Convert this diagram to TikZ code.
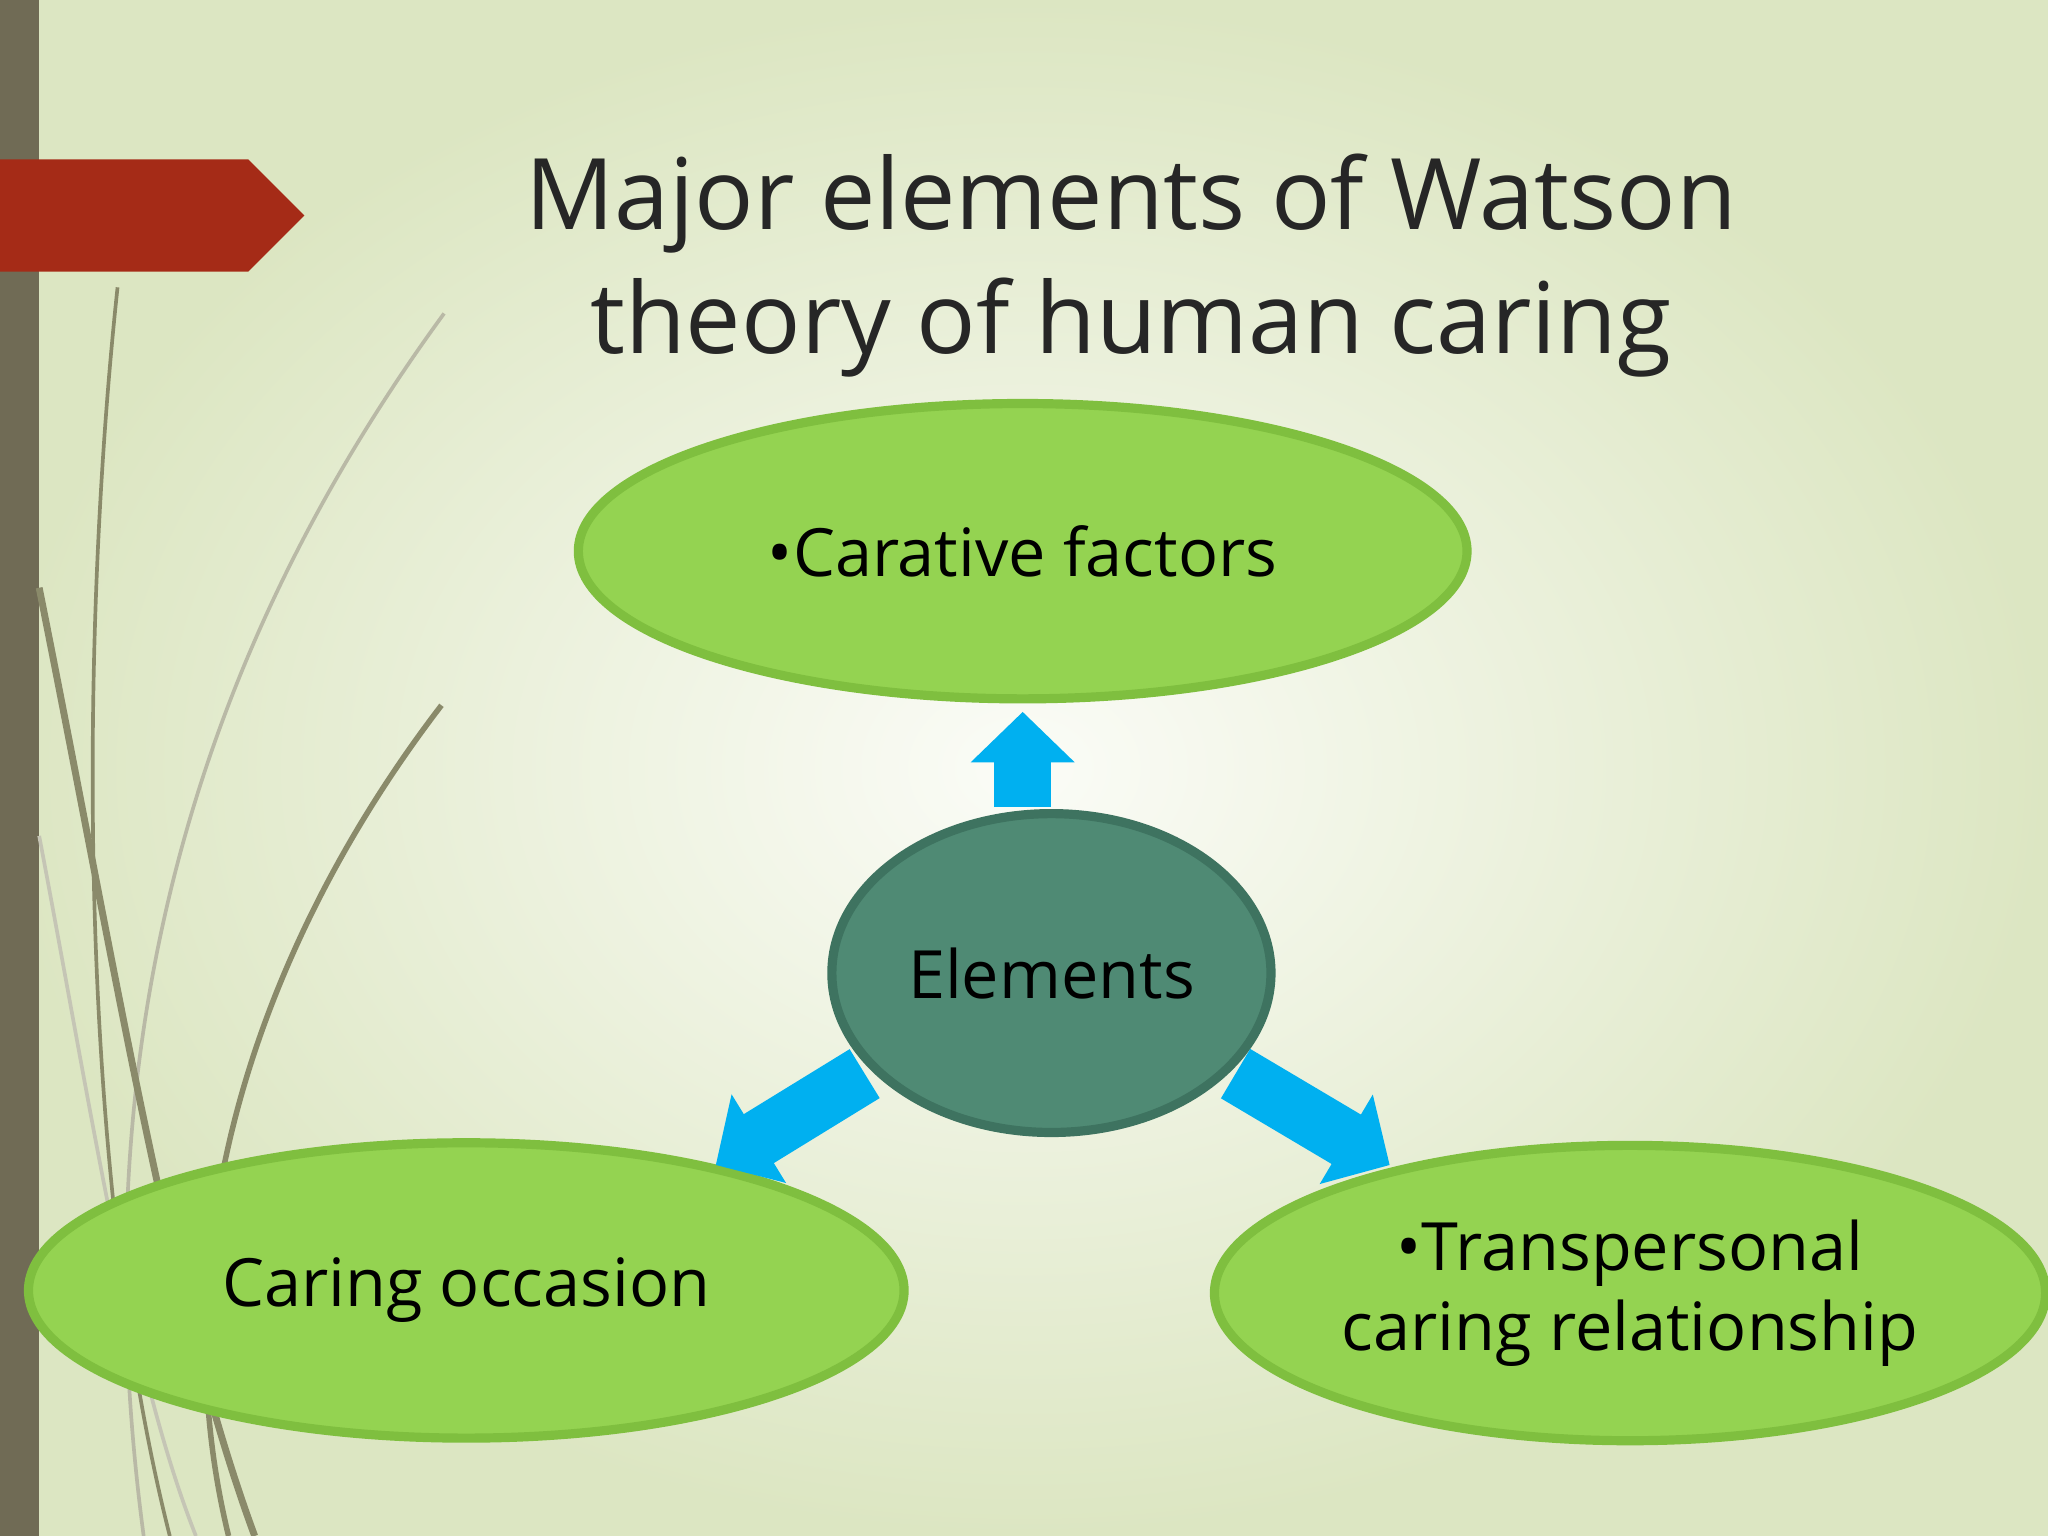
\documentclass[tikz,border=0pt]{standalone}
\usepackage{fontspec}
\setmainfont{Open Sans}
\usetikzlibrary{arrows.meta,shapes.geometric}
\definecolor{bgout}{HTML}{DCE6C2}
\definecolor{bgin}{HTML}{FBFCF7}
\definecolor{barc}{HTML}{706B55}
\definecolor{redc}{HTML}{A52B17}
\definecolor{lgreen}{HTML}{94D351}
\definecolor{lgreenedge}{HTML}{7FBF3F}
\definecolor{teal}{HTML}{4F8A74}
\definecolor{tealedge}{HTML}{3E7360}
\definecolor{bluec}{HTML}{00B0F0}
\definecolor{grass}{HTML}{8A8A6A}
\tikzset{
  x=0.01cm,y=-0.01cm,
  oval/.style={ellipse,fill=lgreen,draw=lgreenedge,line width=2pt,inner sep=0pt,align=center,font=\fontsize{14.5}{17.5}\selectfont},
  blu/.style={draw=bluec,line width=12.5pt,-{Triangle[width=22pt,length=11pt]}},
  gr/.style={draw=grass,line width=0.8pt}
}
\begin{document}
\begin{tikzpicture}
\useasboundingbox (0,0) rectangle (1568,1176);
\shade[inner color=bgin,outer color=bgout] (0,0) rectangle (1568,1176);
\fill[barc] (0,0) rectangle (30,1176);
% grass
\draw[gr] (90,220) .. controls (60,500) and (60,900) .. (130,1176);
\draw[gr,draw=grass!60] (340,240) .. controls (150,500) and (60,800) .. (110,1176);
\draw[gr,line width=1.2pt] (338,540) .. controls (200,720) and (120,950) .. (175,1176);
\draw[gr,line width=1.5pt] (30,450) .. controls (90,750) and (130,1000) .. (195,1176);
\draw[gr,draw=grass!50] (30,640) .. controls (70,850) and (100,1050) .. (150,1176);
\fill[redc] (0,122) -- (190,122) -- (233,165) -- (190,208) -- (0,208) -- cycle;
\node[font=\fontsize{21.5}{27}\selectfont,align=center,text=black!85] (title) at (866,203) {Major elements of Watson\\theory of human caring};
\node[oval,minimum width=6.8cm,minimum height=2.26cm] (top) at (783,422) {•Carative factors};
\node[ellipse,fill=teal,draw=tealedge,line width=2pt,inner sep=0pt,minimum width=3.36cm,minimum height=2.44cm,font=\fontsize{14.5}{18}\selectfont] (mid) at (805,745) {Elements};
\node[oval,minimum width=6.7cm,minimum height=2.26cm] (bl) at (357,988) {Caring occasion};
\node[oval,minimum width=6.36cm,minimum height=2.26cm] (br) at (1248,990) {•Transpersonal\\caring relationship};
\coordinate (a1) at (783,618); \coordinate (a2) at (783,545);
\coordinate (b1) at (662,822); \coordinate (b2) at (548,892);
\coordinate (c1) at (946,822); \coordinate (c2) at (1064,892);
\draw[blu] (a1) -- (a2);
\draw[blu] (b1) -- (b2);
\draw[blu] (c1) -- (c2);
\end{tikzpicture}
\end{document}
